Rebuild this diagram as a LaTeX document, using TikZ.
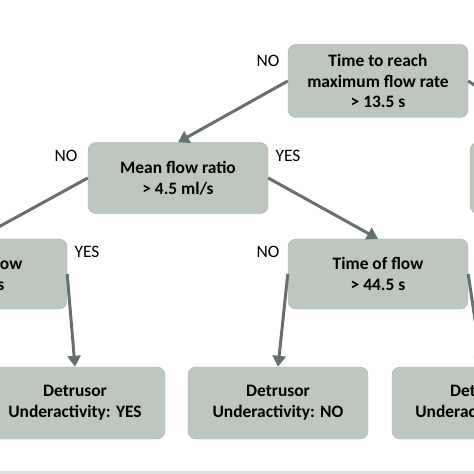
\documentclass[tikz,border=0pt]{standalone}
\usepackage{fontspec}
\setmainfont{Carlito}
\usepackage{tikz}
\usetikzlibrary{arrows.meta,positioning}
\definecolor{boxfill}{RGB}{190,198,192}
\definecolor{boxedge}{RGB}{168,176,170}
\definecolor{arr}{RGB}{102,112,110}

\begin{document}
\begin{tikzpicture}[x=1bp,y=-1bp,
  crit/.style={draw=boxedge,fill=boxfill,rounded corners=8bp,minimum width=180bp,minimum height=71bp,align=center,inner sep=0pt,font=\fontsize{17.5}{21}\bfseries\selectfont},
  ans/.style={font=\fontsize{17.5}{20}\selectfont,inner sep=0pt},
  go/.style={draw=arr,line width=3bp,-{Triangle[length=11bp,width=13bp]}}]
  \useasboundingbox (0,0) rectangle (474,474);
  \clip (0,0) rectangle (474,474);
  \fill[gray!25] (0,471) rectangle (474,474);
  % decision nodes
  \node[crit,minimum height=73bp] (reach) at (378,81) {Time to reach\\maximum flow rate\\> 13.5 s};
  \node[crit] (mean) at (178,178) {Mean flow ratio\\> 4.5 ml/s};
  \node[crit] (rtop) at (560,178) {};
  \node[crit,minimum height=70bp] (lflow) at (-23,274) {Time of flow\\> 44.5 s};
  \node[crit,minimum height=70bp] (tflow) at (378,274) {Time of flow\\> 44.5 s};
  % outcomes
  \node[crit,minimum height=72bp] (dyes) at (75,403) {Detrusor\\Underactivity: YES};
  \node[crit,minimum height=72bp] (dno) at (278,403) {Detrusor\\Underactivity: NO};
  \node[crit,minimum height=72bp] (dright) at (482,403) {Detrusor\\Underactivity: YES};
  % branches
  \draw[go] (reach.west) -- (mean.north);
  \draw[go] (reach.east) -- (rtop.north);
  \draw[go] (mean.west) -- (lflow.north);
  \draw[go] (mean.east) -- (tflow.north);
  \draw[go] (lflow.east) -- (dyes.north);
  \draw[go] (tflow.west) -- (dno.north);
  \draw[go] (tflow.east) -- (dright.north);
  \node[ans] (n1) at (268,61) {NO};
  \node[ans] (n2) at (66,156) {NO};
  \node[ans] (y2) at (288,156) {YES};
  \node[ans] (y3) at (87,252) {YES};
  \node[ans] (n3) at (268,252) {NO};
\end{tikzpicture}
\end{document}
